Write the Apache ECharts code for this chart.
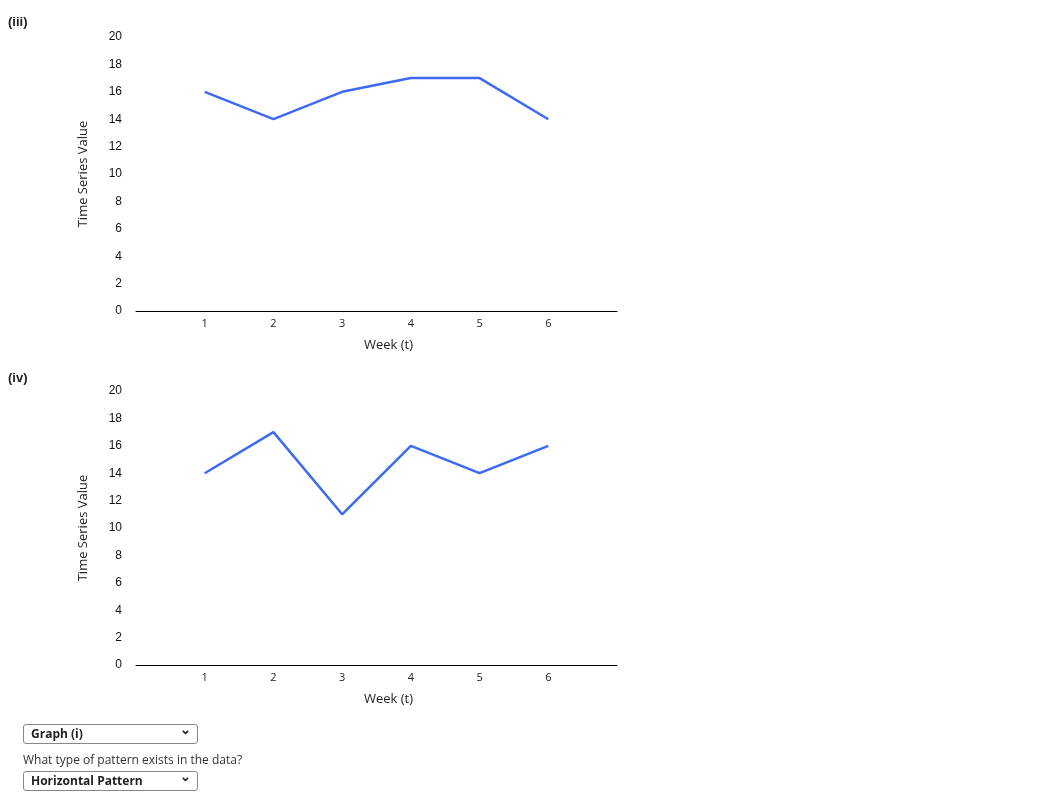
<!DOCTYPE html>
<html>
<head>
<meta charset="utf-8">
<script src="https://cdn.jsdelivr.net/npm/echarts@6/dist/echarts.min.js"></script>
<style>
body { margin: 0; background: #fff; font-family: 'Open Sans', sans-serif; }
#echart { position: absolute; left: 0; top: 0; width: 1046px; height: 803px; }
.tag { position: absolute; font: bold 13px 'Liberation Sans', Arial, sans-serif; color: #222; }
.sel { position: absolute; left: 23px; height: 20px; border: 1px solid #888; border-radius: 3px;
       font: bold 12px 'Open Sans', sans-serif; color: #222; line-height: 18px; padding-left: 7px; box-sizing: border-box; width: 175px; }
.sel:after { content: '\2304'; position: absolute; right: 6px; top: -5px; font-size: 13px; }
.q { position: absolute; left: 23px; top: 751px; font: 12px 'Open Sans', sans-serif; color: #333; }
</style>
</head>
<body>
<div id="echart"></div>
<div class="tag" style="left:8px;top:14px">(iii)</div>
<div class="tag" style="left:8px;top:370px">(iv)</div>
<div class="sel" style="top:724px">Graph (i)</div>
<div class="q">What type of pattern exists in the data?</div>
<div class="sel" style="top:771px">Horizontal Pattern</div>
<script>
var weeks = [1, 2, 3, 4, 5, 6];
var values_iii = [16, 14, 16, 17, 17, 14];
var values_iv = [14, 17, 11, 16, 14, 16];
var y_ticks = [0, 2, 4, 6, 8, 10, 12, 14, 16, 18, 20];

try {
    var chart = echarts.init(document.getElementById('echart'));
    function xAxis(i) {
        return {
            type: 'value', gridIndex: i, min: 0, max: 7, interval: 1,
            name: 'Week (t)', nameLocation: 'middle', nameGap: 28,
            nameTextStyle: { fontFamily: 'Open Sans', fontSize: 13, color: '#222', padding: [0, 0, 0, 24] },
            axisLine: { lineStyle: { color: '#000', width: 1 } },
            axisTick: { show: false }, splitLine: { show: false },
            axisLabel: { fontFamily: 'Open Sans', fontSize: 11, color: '#222', margin: 7,
                formatter: function (v) { return weeks.indexOf(v) >= 0 ? String(v) : ''; } }
        };
    }
    function yAxis(i) {
        return {
            type: 'value', gridIndex: i, min: y_ticks[0], max: y_ticks[y_ticks.length - 1], interval: 2,
            name: 'Time Series Value', nameLocation: 'middle', nameGap: 46,
            nameTextStyle: { fontFamily: 'Open Sans', fontSize: 13, color: '#222' },
            axisLine: { show: false }, axisTick: { show: false }, splitLine: { show: false },
            axisLabel: { fontFamily: 'Liberation Sans', fontSize: 12, color: '#111', margin: 14 }
        };
    }
    function pts(vals) { return vals.map(function (v, k) { return [weeks[k], v]; }); }
    var option = {
        animation: false,
        grid: [
            { left: 136, top: 37, width: 481, height: 274 },
            { left: 136, top: 391, width: 481, height: 274 }
        ],
        xAxis: [xAxis(0), xAxis(1)],
        yAxis: [yAxis(0), yAxis(1)],
        series: [
            { type: 'line', xAxisIndex: 0, yAxisIndex: 0, data: pts(values_iii), symbol: 'none',
              lineStyle: { color: '#3d6af5', width: 2.5 } },
            { type: 'line', xAxisIndex: 1, yAxisIndex: 1, data: pts(values_iv), symbol: 'none',
              lineStyle: { color: '#3d6af5', width: 2.5 } }
        ]
    };
    chart.setOption(option);
} catch (error) {
    console.error('Failed to draw chart');
    console.error(error);
}
</script>
</body>
</html>
